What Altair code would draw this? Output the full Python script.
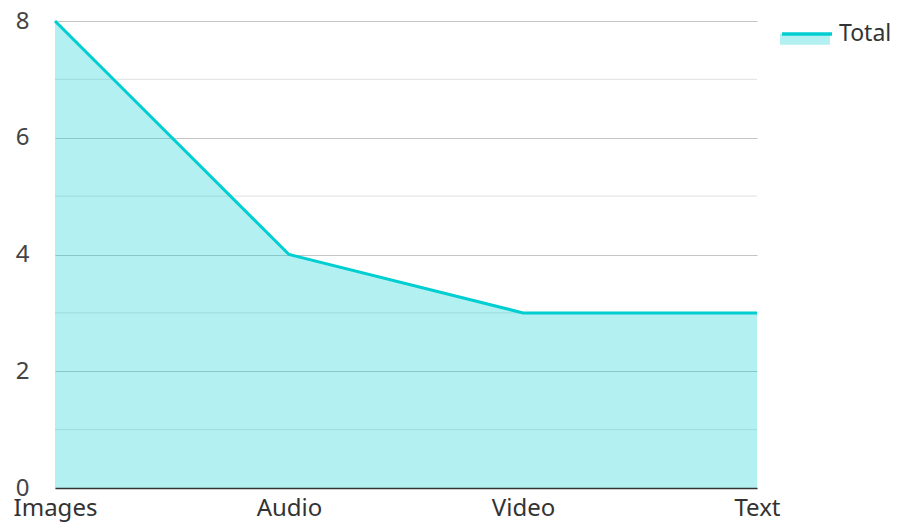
import altair as alt
import pandas as pd

categories = ["Images", "Audio", "Video", "Text"]
totals = [8, 4, 3, 3]
series_name = "Total"
major_ticks = [0, 2, 4, 6, 8]
minor_ticks = [1, 3, 5, 7]

LINE = "#00CED1"

df = pd.DataFrame({
    "category": categories,
    "value": totals,
    "series": [series_name] * len(categories),
    "series_fill": [series_name] * len(categories),
})
grid_df = pd.DataFrame({"v": minor_ticks})

x_enc = alt.X(
    "category:N", sort=categories,
    scale=alt.Scale(type="point", padding=0),
    axis=alt.Axis(title=None, labelAngle=0, ticks=False, grid=False,
                  domainColor="#333333", domainWidth=1.5, labelFontSize=24,
                  labelColor="#333333", labelPadding=8, zindex=1),
)
y_scale = alt.Scale(domain=[0, 8], nice=False)
y_axis = alt.Axis(title=None, values=major_ticks, ticks=False, domain=False,
                  gridColor="#c4c4c4", gridWidth=1.2, labelFontSize=24,
                  labelPadding=26, labelColor="#444444")
y_enc = alt.Y("value:Q", scale=y_scale, axis=y_axis)

minor = alt.Chart(grid_df).mark_rule(color="#e6e6e6", strokeWidth=1.2).encode(
    y=alt.Y("v:Q", scale=y_scale, axis=y_axis)
)

LX, LY = 725, -14

area = alt.Chart(df).mark_area(opacity=0.3).encode(
    x=x_enc, y=y_enc,
    fill=alt.Fill("series_fill:N", scale=alt.Scale(range=[LINE]),
                  legend=alt.Legend(title=None, orient="none", legendX=LX, legendY=LY,
                                    symbolType="M-1,0.07H1V0.51H-1Z", symbolSize=2500,
                                    symbolOpacity=0.3, symbolStrokeWidth=0,
                                    labelColor="transparent", labelFontSize=23,
                                    labelOffset=5)),
)

line = alt.Chart(df).mark_line(strokeWidth=3).encode(
    x=x_enc, y=y_enc,
    stroke=alt.Stroke("series:N", scale=alt.Scale(range=[LINE]),
                      legend=alt.Legend(title=None, orient="none", legendX=LX, legendY=LY,
                                        symbolType="stroke", symbolSize=2500,
                                        symbolStrokeWidth=3.5, labelFontSize=23,
                                        labelColor="#333333", labelOffset=5)),
)

chart = alt.layer(minor, area, line).properties(
    width=702, height=467,
    autosize=alt.AutoSizeParams(type="none"),
    padding={"left": 47, "top": 13, "right": 134, "bottom": 35},
).configure(font="Noto Sans").configure_view(stroke=None)

chart.save("out.html", embed_options={"renderer": "svg", "actions": False})
